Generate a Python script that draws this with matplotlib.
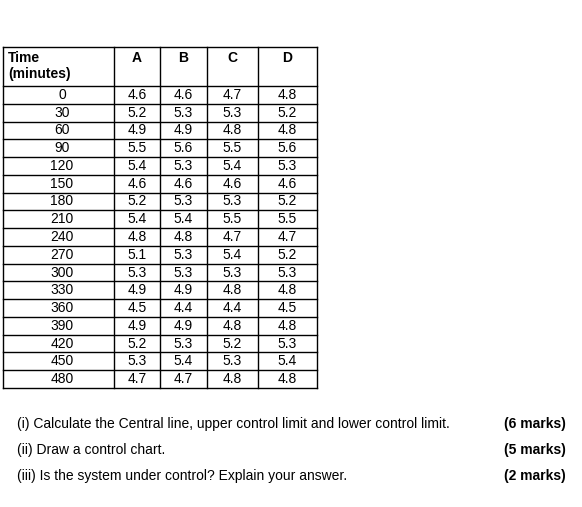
import matplotlib.pyplot as plt

times = [0, 30, 60, 90, 120, 150, 180, 210, 240, 270, 300, 330, 360, 390, 420, 450, 480]
col_a = [4.6, 5.2, 4.9, 5.5, 5.4, 4.6, 5.2, 5.4, 4.8, 5.1, 5.3, 4.9, 4.5, 4.9, 5.2, 5.3, 4.7]
col_b = [4.6, 5.3, 4.9, 5.6, 5.3, 4.6, 5.3, 5.4, 4.8, 5.3, 5.3, 4.9, 4.4, 4.9, 5.3, 5.4, 4.7]
col_c = [4.7, 5.3, 4.8, 5.5, 5.4, 4.6, 5.3, 5.5, 4.7, 5.4, 5.3, 4.8, 4.4, 4.8, 5.2, 5.3, 4.8]
col_d = [4.8, 5.2, 4.8, 5.6, 5.3, 4.6, 5.2, 5.5, 4.7, 5.2, 5.3, 4.8, 4.5, 4.8, 5.3, 5.4, 4.8]
headers = ["A", "B", "C", "D"]
questions = [
    ("(i) Calculate the Central line, upper control limit and lower control limit.", "(6 marks)"),
    ("(ii) Draw a control chart.", "(5 marks)"),
    ("(iii) Is the system under control? Explain your answer.", "(2 marks)"),
]

W, H = 582, 507
plt.rcParams["font.family"] = ["Liberation Sans", "DejaVu Sans"]
fig = plt.figure(figsize=(W / 100, H / 100), dpi=100)
ax = fig.add_axes([0, 0, 1, 1])
ax.set_xlim(0, W)
ax.set_ylim(H, 0)
ax.axis("off")

xs = [3, 114, 160, 207, 258, 317]
top, head_bot, bot = 47, 86, 388
row_h = (bot - head_bot) / len(times)

# grid
for x in xs:
    ax.plot([x, x], [top, bot], color="black", lw=1)
ax.plot([xs[0], xs[-1]], [top, top], color="black", lw=1)
ax.plot([xs[0], xs[-1]], [head_bot, head_bot], color="black", lw=1)
for i in range(1, len(times) + 1):
    y = head_bot + i * row_h
    ax.plot([xs[0], xs[-1]], [y, y], color="black", lw=1)

ax.text(8, 58, "Time", fontsize=10, fontweight="bold", va="center")
ax.text(8, 74, "(minutes)", fontsize=10, fontweight="bold", va="center")
for j, h in enumerate(headers):
    ax.text((xs[j + 1] + xs[j + 2]) / 2, 58, h, fontsize=10, fontweight="bold", ha="center", va="center")

cols = [col_a, col_b, col_c, col_d]
for i, t in enumerate(times):
    y = head_bot + (i + 0.5) * row_h
    ax.text(62, y, str(t), fontsize=10, ha="center", va="center")
    for j, col in enumerate(cols):
        ax.text((xs[j + 1] + xs[j + 2]) / 2, y, f"{col[i]:.1f}", fontsize=10, ha="center", va="center")

for k, (q, m) in enumerate(questions):
    y = 424 + k * 26
    ax.text(17, y, q, fontsize=10, va="center")
    ax.text(566, y, m, fontsize=10, fontweight="bold", ha="right", va="center")

fig.savefig("out.png", dpi=100)
